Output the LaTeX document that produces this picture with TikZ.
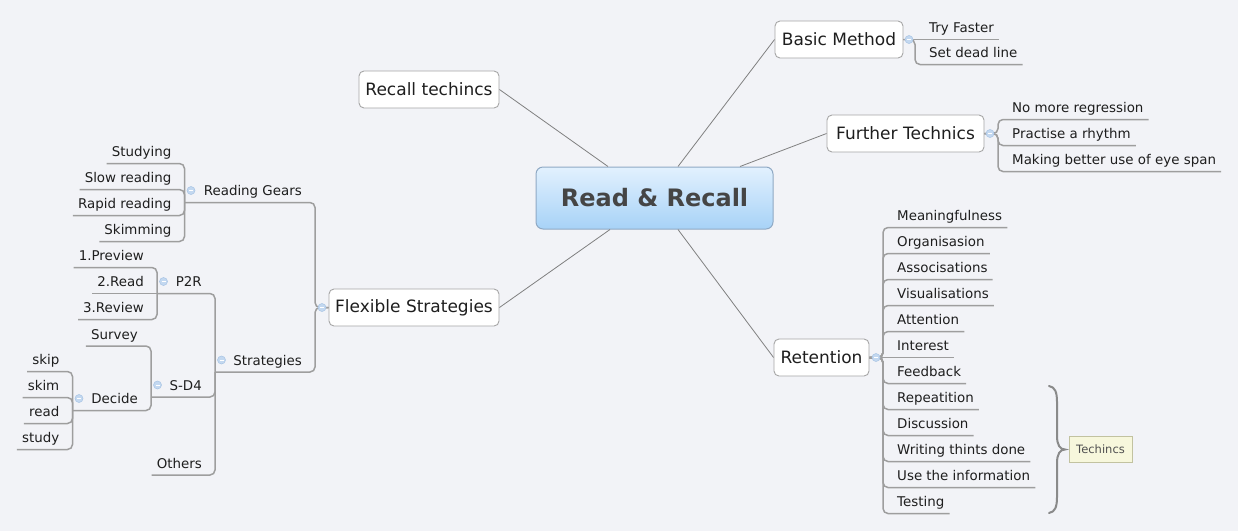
\documentclass[tikz,border=0pt]{standalone}
\usepackage{fontspec}
\setmainfont{DejaVu Sans}
\usetikzlibrary{calc}
\definecolor{bg}{HTML}{F2F3F7}
\definecolor{br}{HTML}{9E9E9E}
\definecolor{cl}{HTML}{808080}
\definecolor{bx}{HTML}{A6A6A6}
\definecolor{mk}{HTML}{C3D8F0}
\definecolor{mkd}{HTML}{A8C4E4}
\definecolor{txt}{HTML}{1E1E1E}
\definecolor{maintxt}{HTML}{454545}
\definecolor{mtop}{HTML}{E2F1FE}
\definecolor{mbot}{HTML}{A7D2F7}
\definecolor{mdraw}{HTML}{8FA9C4}
\definecolor{lab}{HTML}{F7F7DC}
\definecolor{labd}{HTML}{C2C2A0}
\definecolor{labtxt}{HTML}{505050}
\definecolor{brace}{HTML}{8A8A8A}
\tikzset{
  leaf/.style={inner xsep=5pt, inner ysep=1pt, font=\fontsize{13.4}{16}\selectfont, text=txt},
  topic/.style={draw=bx, line width=0.9pt, fill=white, rounded corners=5pt, minimum height=37pt, inner sep=0pt, font=\fontsize{17}{20}\selectfont, text=txt},
  branch/.style={draw=br, line width=1.5pt, rounded corners=5pt},
  spoke/.style={draw=cl, line width=0.8pt},
  marker/.style={circle, fill=mk, draw=mkd, line width=0.5pt, minimum size=8pt, inner sep=0pt,
    path picture={\draw[white, line width=0.8pt] ([xshift=-2pt]path picture bounding box.center) -- ([xshift=2pt]path picture bounding box.center);}},
  summary/.style={draw=labd, line width=0.8pt, fill=lab, minimum width=63pt, minimum height=26pt, inner sep=0pt, font=\fontsize{11.5}{14}\selectfont, text=labtxt},
  bracestyle/.style={draw=brace, line width=2pt, line cap=round}
}
\begin{document}
\begin{tikzpicture}[x=1pt,y=-1pt]
\useasboundingbox (0,0) rectangle (1238,531);
\fill[bg] (0,0) rectangle (1238,531);

% central topic
\node[draw=mdraw, line width=1pt, rounded corners=7pt, top color=mtop, bottom color=mbot,
      minimum width=237pt, minimum height=62pt, inner sep=0pt,
      font=\fontsize{24}{28}\selectfont\bfseries, text=maintxt] (main) at (654.5,198) {Read \& Recall};

% main topics
\node[topic, minimum width=140pt] (RC) at (429,89.5) {Recall techincs};
\node[topic, minimum width=128pt] (BM) at (839,39.5) {Basic Method};
\node[topic, minimum width=157pt] (FT) at (905.5,133.5) {Further Technics};
\node[topic, minimum width=95pt] (RT) at (821.5,357.5) {Retention};
\node[topic, minimum width=170pt] (FS) at (414,307.5) {Flexible Strategies};

% spokes
\draw[spoke] ([xshift=-46.5pt]main.north) -- (RC.east);
\draw[spoke] ([xshift=23.5pt]main.north) -- (BM.west);
\draw[spoke] ([xshift=85.5pt]main.north) -- (FT.west);
\draw[spoke] ([xshift=23.5pt]main.south) -- (RT.west);
\draw[spoke] ([xshift=-44.5pt]main.south) -- (FS.east);

% Basic Method
\coordinate (sBM) at (915,39.5);
\node[leaf, anchor=base west] (bm1) at (924,32.5) {Try Faster};
\node[leaf, anchor=base west] (bm2) at (924,57.5) {Set dead line};
\draw[branch] (BM.east) -- ($(bm1.base east)+(0,7)$);
\draw[branch] (BM.east) -- (sBM) |- ($(bm2.base east)+(0,7)$);

% Further Technics
\coordinate (sFT) at (998,133.5);
\node[leaf, anchor=base west] (ft1) at (1007,112.5) {No more regression};
\node[leaf, anchor=base west] (ft2) at (1007,138.5) {Practise a rhythm};
\node[leaf, anchor=base west] (ft3) at (1007,164.5) {Making better use of eye span};
\foreach \i in {1,2,3}
  \draw[branch] (FT.east) -- (sFT) |- ($(ft\i.base east)+(0,7)$);

% Retention
\coordinate (sRT) at (883,357.5);
\foreach \t [count=\i from 0] in {Meaningfulness,Organisasion,Associsations,Visualisations,Attention,Interest,Feedback,Repeatition,Discussion,Writing thints done,Use the information,Testing}
  \node[leaf, anchor=base west] (rt\i) at (892,{220.5+26*\i}) {\t};
\foreach \i in {0,1,2,3,4,6,7,8,9,10,11}
  \draw[branch] (RT.east) -- (sRT) |- ($(rt\i.base east)+(0,7)$);
\draw[branch] (RT.east) -- ($(rt5.base east)+(0,7)$);

% summary brace
\coordinate (bt) at (1049,386);
\coordinate (bb) at (1049,513);
\coordinate (btip) at (1065,449.5);
\draw[bracestyle] (bt) .. controls (1055,387) and (1057,392) .. (1057,402) -- (1057,436)
   .. controls (1057,445) and (1060,449.5) .. (btip)
   .. controls (1060,449.5) and (1057,454) .. (1057,463) -- (1057,497)
   .. controls (1057,507) and (1055,512) .. (bb);
\node[summary] (tech) at (1100.5,449) {Techincs};

% Flexible Strategies
\coordinate (sFS) at (315,307.5);
\node[leaf, anchor=base east] (RG) at (307,195.5) {Reading Gears};
\node[leaf, anchor=base east] (ST) at (307,365) {Strategies};
\coordinate (sRG) at (184.5,202.5);
\coordinate (sST) at (215,372);
\draw[branch] (FS.west) -- (sFS) |- (sRG);
\draw[branch] (FS.west) -- (sFS) |- (sST);

% Reading Gears
\node[leaf, anchor=base east] (rg1) at (176.5,156.5) {Studying};
\node[leaf, anchor=base east] (rg2) at (176.5,182.5) {Slow reading};
\node[leaf, anchor=base east] (rg3) at (176.5,208.5) {Rapid reading};
\node[leaf, anchor=base east] (rg4) at (176.5,234.5) {Skimming};
\foreach \i in {1,2,3,4}
  \draw[branch] (sRG) |- ($(rg\i.base west)+(0,7)$);

% Strategies
\node[leaf, anchor=base east] (P2R) at (207,286.5) {P2R};
\node[leaf, anchor=base east] (SD4) at (207,390) {S-D4};
\node[leaf, anchor=base east] (oth) at (207,468) {Others};
\coordinate (sP2R) at (157,293.5);
\coordinate (sSD4) at (151,397);
\draw[branch] (sST) |- (sP2R);
\draw[branch] (sST) |- (sSD4);
\draw[branch] (sST) |- ($(oth.base west)+(0,7)$);

% P2R
\node[leaf, anchor=base east] (pr1) at (149,260.5) {1.Preview};
\node[leaf, anchor=base east] (pr2) at (149,286.5) {2.Read};
\node[leaf, anchor=base east] (pr3) at (149,312.5) {3.Review};
\draw[branch] (sP2R) |- ($(pr1.base west)+(0,7)$);
\draw[branch] (sP2R) -- ($(pr2.base west)+(0,7)$);
\draw[branch] (sP2R) |- ($(pr3.base west)+(0,7)$);

% S-D4
\node[leaf, anchor=base east] (sv) at (143,339) {Survey};
\node[leaf, anchor=base east] (DE) at (143,403.5) {Decide};
\coordinate (sDE) at (72.5,410.5);
\draw[branch] (sSD4) |- ($(sv.base west)+(0,7)$);
\draw[branch] (sSD4) |- (sDE);

% Decide
\node[leaf, anchor=base east] (de1) at (64.5,364.5) {skip};
\node[leaf, anchor=base east] (de2) at (64.5,390.5) {skim};
\node[leaf, anchor=base east] (de3) at (64.5,416.5) {read};
\node[leaf, anchor=base east] (de4) at (64.5,442.5) {study};
\foreach \i in {1,2,3,4}
  \draw[branch] (sDE) |- ($(de\i.base west)+(0,7)$);

% collapse markers
\node[marker] (mBM) at (909,39.5) {};
\node[marker] (mFT) at (990,133.5) {};
\node[marker] (mRT) at (876,357.5) {};
\node[marker] (mFS) at (322,307.5) {};
\node[marker] (mRG) at (191,190.5) {};
\node[marker] (mST) at (221.5,360) {};
\node[marker] (mP2R) at (163.5,281.5) {};
\node[marker] (mSD4) at (157.5,385) {};
\node[marker] (mDE) at (79,398.5) {};
\end{tikzpicture}
\end{document}
